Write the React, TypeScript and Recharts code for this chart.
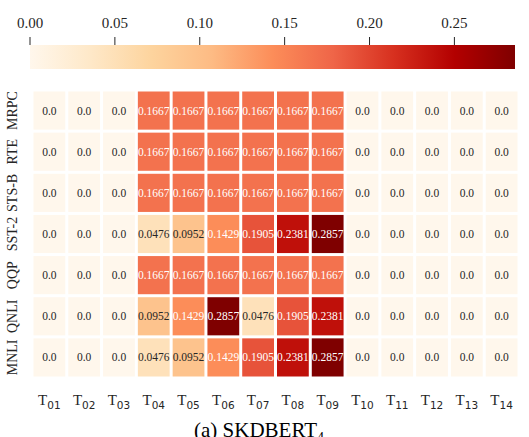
import React from "react";
import {
  ComposedChart,
  ScatterChart,
  Scatter,
  Bar,
  XAxis,
  YAxis,
} from "recharts";

// rows (tasks) top to bottom, columns = teachers T01..T14
const TASKS = ["MRPC", "RTE", "STS-B", "SST-2", "QQP", "QNLI", "MNLI"];
const TEACHERS = ["01", "02", "03", "04", "05", "06", "07", "08", "09", "10", "11", "12", "13", "14"];

const MRPC = [0, 0, 0, 0.1667, 0.1667, 0.1667, 0.1667, 0.1667, 0.1667, 0, 0, 0, 0, 0];
const RTE = [0, 0, 0, 0.1667, 0.1667, 0.1667, 0.1667, 0.1667, 0.1667, 0, 0, 0, 0, 0];
const STSB = [0, 0, 0, 0.1667, 0.1667, 0.1667, 0.1667, 0.1667, 0.1667, 0, 0, 0, 0, 0];
const SST2 = [0, 0, 0, 0.0476, 0.0952, 0.1429, 0.1905, 0.2381, 0.2857, 0, 0, 0, 0, 0];
const QQP = [0, 0, 0, 0.1667, 0.1667, 0.1667, 0.1667, 0.1667, 0.1667, 0, 0, 0, 0, 0];
const QNLI = [0, 0, 0, 0.0952, 0.1429, 0.2857, 0.0476, 0.1905, 0.2381, 0, 0, 0, 0, 0];
const MNLI = [0, 0, 0, 0.0476, 0.0952, 0.1429, 0.1905, 0.2381, 0.2857, 0, 0, 0, 0, 0];
const ROWS = [MRPC, RTE, STSB, SST2, QQP, QNLI, MNLI];

const CBAR_TICKS = [0, 0.05, 0.1, 0.15, 0.2, 0.25];
const VMAX = 0.2857;

// matplotlib OrRd
const ORRD = ["#fff7ec", "#fee8c8", "#fdd49e", "#fdbb84", "#fc8d59", "#ef6548", "#d7301f", "#b30000", "#7f0000"];

const SERIF = "'Liberation Serif', 'Times New Roman', serif";
const W = 529;

const hex = (h: string) => [1, 3, 5].map((i) => parseInt(h.slice(i, i + 2), 16));

function orrd(v: number) {
  const t = Math.max(0, Math.min(1, v / VMAX)) * (ORRD.length - 1);
  const i = Math.min(Math.floor(t), ORRD.length - 2);
  const f = t - i;
  const a = hex(ORRD[i]);
  const b = hex(ORRD[i + 1]);
  return a.map((c, k) => Math.round(c + (b[k] - c) * f));
}

function textColor(rgb: number[]) {
  const lin = rgb.map((c) => {
    const s = c / 255;
    return s <= 0.03928 ? s / 12.92 : Math.pow((s + 0.055) / 1.055, 2.4);
  });
  const lum = 0.2126 * lin[0] + 0.7152 * lin[1] + 0.0722 * lin[2];
  return lum > 0.408 ? "#262626" : "#ffffff";
}

const points = ROWS.flatMap((vals, r) => vals.map((value, c) => ({ col: c, row: r, value })));
const cbarData = [{ name: "cbar", v: VMAX }];

// heatmap plot geometry
const HM_H = 357;
const HM_MARGIN = { top: 10, right: 10, bottom: 0, left: 0 };
const Y_W = 32;
const X_H = 59;
const PLOT_W = W - HM_MARGIN.left - HM_MARGIN.right - Y_W;
const PLOT_H = HM_H - HM_MARGIN.top - HM_MARGIN.bottom - X_H;
const GAP = 3;
const CELL_W = PLOT_W / TEACHERS.length - GAP;
const CELL_H = PLOT_H / TASKS.length - GAP;

const HeatCell = (props: any) => {
  const { cx, cy, payload } = props;
  const rgb = orrd(payload.value);
  const label = payload.value === 0 ? "0.0" : payload.value.toFixed(4);
  return (
    <g>
      <rect
        x={cx - CELL_W / 2}
        y={cy - CELL_H / 2}
        width={CELL_W}
        height={CELL_H}
        fill={`rgb(${rgb.join(",")})`}
      />
      <text
        x={cx}
        y={cy + 4}
        textAnchor="middle"
        fontFamily={SERIF}
        fontSize={11.5}
        fill={textColor(rgb)}
      >
        {label}
      </text>
    </g>
  );
};

const TeacherTick = (props: any) => {
  const { x, y, payload } = props;
  return (
    <text x={x} y={y + 19} textAnchor="middle" fill="#262626">
      <tspan fontFamily={SERIF} fontSize={15}>T</tspan>
      <tspan fontFamily="'DejaVu Sans', sans-serif" fontSize={10.5} dy={4}>
        {TEACHERS[payload.value]}
      </tspan>
    </text>
  );
};

const TaskTick = (props: any) => {
  const { y, payload } = props;
  return (
    <text
      x={0}
      y={0}
      transform={`translate(17, ${y}) rotate(-90)`}
      textAnchor="middle"
      fontFamily={SERIF}
      fontSize={14}
      fill="#262626"
    >
      {TASKS[payload.value]}
    </text>
  );
};

const GradientBar = (props: any) => {
  const { x, y, width, height } = props;
  return (
    <g>
      <defs>
        <linearGradient id="orrd" x1="0" y1="0" x2="1" y2="0">
          {ORRD.map((c, i) => (
            <stop key={i} offset={i / (ORRD.length - 1)} stopColor={c} />
          ))}
        </linearGradient>
      </defs>
      <rect x={x} y={y} width={width} height={height} fill="url(#orrd)" />
    </g>
  );
};

export default function App() {
  return (
    <div style={{ position: "absolute", left: 0, top: 0, width: W, height: 437, background: "#fff", overflow: "hidden" }}>
      <ComposedChart
        width={W}
        height={80}
        layout="vertical"
        data={cbarData}
        barCategoryGap={0}
        margin={{ top: 15, right: 14, bottom: 11, left: 30 }}
      >
        <XAxis
          type="number"
          orientation="top"
          domain={[0, VMAX]}
          ticks={CBAR_TICKS}
          tickFormatter={(v: number) => v.toFixed(2)}
          height={30}
          axisLine={false}
          tickSize={8}
          tickMargin={9}
          tickLine={{ stroke: "#262626" }}
          tick={{ fill: "#262626", fontSize: 15, fontFamily: SERIF }}
        />
        <YAxis type="category" dataKey="name" hide />
        <Bar dataKey="v" shape={<GradientBar />} isAnimationActive={false} />
      </ComposedChart>
      <div style={{ position: "absolute", left: 0, top: 80 }}>
        <ScatterChart width={W} height={HM_H} margin={HM_MARGIN}>
          <XAxis
            type="number"
            dataKey="col"
            domain={[-0.5, TEACHERS.length - 0.5]}
            ticks={TEACHERS.map((_, i) => i)}
            height={X_H}
            axisLine={false}
            tickLine={false}
            tick={<TeacherTick />}
            interval={0}
          />
          <YAxis
            type="number"
            dataKey="row"
            domain={[-0.5, TASKS.length - 0.5]}
            ticks={TASKS.map((_, i) => i)}
            reversed
            width={Y_W}
            axisLine={false}
            tickLine={false}
            tick={<TaskTick />}
            interval={0}
          />
          <Scatter data={points} shape={<HeatCell />} isAnimationActive={false} />
        </ScatterChart>
      </div>
      <div
        style={{
          position: "absolute",
          left: 0,
          top: 420,
          width: 518,
          textAlign: "center",
          fontFamily: SERIF,
          fontSize: 21,
          lineHeight: 1,
          color: "#000",
        }}
      >
        (a) SKDBERT<sub style={{ fontSize: 14 }}>4</sub>
      </div>
    </div>
  );
}
